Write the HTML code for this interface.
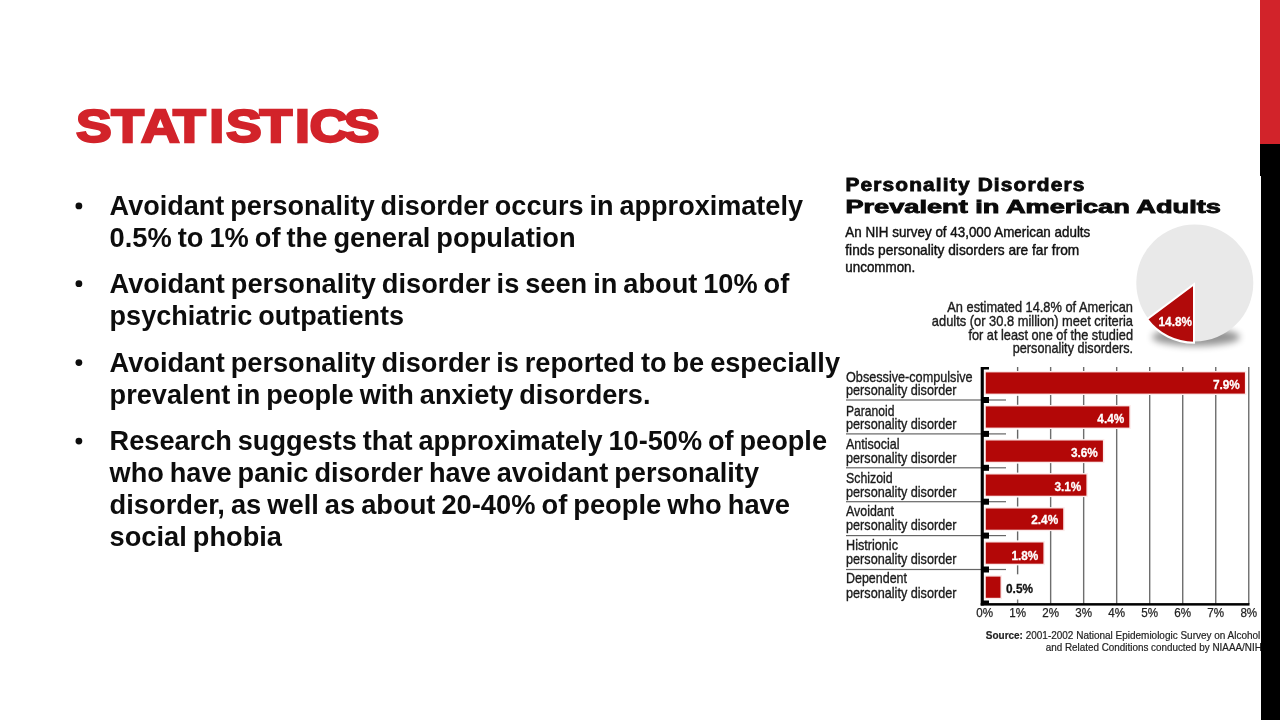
<!DOCTYPE html>
<html><head><meta charset="utf-8">
<title>Statistics</title>
<style>
html,body{margin:0;padding:0;}
body{width:1280px;height:720px;position:relative;overflow:hidden;background:#fff;font-family:"Liberation Sans",sans-serif;}
.abs{position:absolute;}
svg{position:absolute;left:0;top:0;}
svg text{font-family:"Liberation Sans",sans-serif;}
.b{font-weight:bold;font-size:27.2px;fill:#0d0d0d;word-spacing:-1.6px;}
.lab{font-size:15px;fill:#1a1a1a;stroke:#1a1a1a;stroke-width:0.35px;}
.sub{font-size:15px;fill:#111;stroke:#111;stroke-width:0.45px;}
.est{font-size:15px;fill:#1c1c1c;stroke:#1c1c1c;stroke-width:0.4px;}
.val{font-size:13.5px;font-weight:bold;fill:#fff;stroke:#fff;stroke-width:0.3px;}
.ax{font-size:13.5px;fill:#222;stroke:#222;stroke-width:0.25px;}
.src{font-size:11px;fill:#222;stroke:#222;stroke-width:0.2px;}
</style></head><body>
<svg width="1280" height="720" viewBox="0 0 1280 720">
<text transform="scale(1.14,1)" x="82.4 112.0 140.6 166.2 190.1 213.9 241.9 265.3 288.5 317.3" y="141.7" font-size="47" font-weight="bold" text-anchor="middle" fill="#d2232a" stroke="#d2232a" stroke-width="2.3" stroke-linejoin="miter" stroke-miterlimit="3">STATISTICS</text>
<circle cx="78.9" cy="205.9" r="3.4" fill="#0d0d0d"/>
<text class="b" x="109.6" y="214.9" textLength="693.4" lengthAdjust="spacingAndGlyphs">Avoidant personality disorder occurs in approximately</text>
<text class="b" x="109.6" y="247.1" textLength="466.1" lengthAdjust="spacingAndGlyphs">0.5% to 1% of the general population</text>
<circle cx="78.9" cy="283.7" r="3.4" fill="#0d0d0d"/>
<text class="b" x="109.6" y="292.7" textLength="679.7" lengthAdjust="spacingAndGlyphs">Avoidant personality disorder is seen in about 10% of</text>
<text class="b" x="109.6" y="325.1" textLength="294.4" lengthAdjust="spacingAndGlyphs">psychiatric outpatients</text>
<circle cx="78.9" cy="362.6" r="3.4" fill="#0d0d0d"/>
<text class="b" x="109.6" y="371.6" textLength="730.4" lengthAdjust="spacingAndGlyphs">Avoidant personality disorder is reported to be especially</text>
<text class="b" x="109.6" y="403.6" textLength="540.9" lengthAdjust="spacingAndGlyphs">prevalent in people with anxiety disorders.</text>
<circle cx="78.9" cy="441.1" r="3.4" fill="#0d0d0d"/>
<text class="b" x="109.6" y="450.1" textLength="717.4" lengthAdjust="spacingAndGlyphs">Research suggests that approximately 10-50% of people</text>
<text class="b" x="109.6" y="482.0" textLength="649.4" lengthAdjust="spacingAndGlyphs">who have panic disorder have avoidant personality</text>
<text class="b" x="109.6" y="513.8" textLength="680.4" lengthAdjust="spacingAndGlyphs">disorder, as well as about 20-40% of people who have</text>
<text class="b" x="109.6" y="545.7" textLength="172.4" lengthAdjust="spacingAndGlyphs">social phobia</text>
<text transform="translate(845.4,190.6) scale(1.16,1)" x="0" y="0" font-size="18" font-weight="bold" fill="#0a0a0a" stroke="#0a0a0a" stroke-width="0.8" textLength="206.0" lengthAdjust="spacing">Personality Disorders</text>
<text x="845.4" y="213.3" font-size="18" font-weight="bold" fill="#0a0a0a" stroke="#0a0a0a" stroke-width="0.85" textLength="375.5" lengthAdjust="spacingAndGlyphs">Prevalent in American Adults</text>
<text class="sub" x="845.3" y="236.8" textLength="245" lengthAdjust="spacingAndGlyphs">An NIH survey of 43,000 American adults</text>
<text class="sub" x="845.3" y="254.6" textLength="234" lengthAdjust="spacingAndGlyphs">finds personality disorders are far from</text>
<text class="sub" x="845.3" y="272.0" textLength="70" lengthAdjust="spacingAndGlyphs">uncommon.</text>
<defs><filter id="sh" x="-30%" y="-30%" width="160%" height="170%"><feGaussianBlur stdDeviation="3.5"/></filter></defs>
<ellipse cx="1196" cy="337" rx="44" ry="9" fill="#000" opacity="0.42" filter="url(#sh)"/>
<circle cx="1194.8" cy="283.0" r="58.5" fill="#e9e9e9"/>
<path d="M1194.8 283.0 L1194.8 341.5 A58.5 58.5 0 0 1 1147.9 318.0 Z" fill="#b10a0a" stroke="#fff" stroke-width="2" stroke-linejoin="miter" transform="translate(-0.8,1.2)"/>
<text class="val" x="1158.5" y="326" textLength="33.5" lengthAdjust="spacingAndGlyphs">14.8%</text>
<text class="est" x="947.3" y="311.8" textLength="185.7" lengthAdjust="spacingAndGlyphs">An estimated 14.8% of American</text>
<text class="est" x="931.8" y="325.9" textLength="201.2" lengthAdjust="spacingAndGlyphs">adults (or 30.8 million) meet criteria</text>
<text class="est" x="968.4" y="339.6" textLength="164.6" lengthAdjust="spacingAndGlyphs">for at least one of the studied</text>
<text class="est" x="1012.8" y="353.4" textLength="120.2" lengthAdjust="spacingAndGlyphs">personality disorders.</text>
<rect x="1016.92" y="367" width="1.4" height="4" fill="#666"/>
<rect x="1016.92" y="599.5" width="1.4" height="4" fill="#777"/>
<rect x="1016.92" y="395.8" width="1.4" height="9" fill="#666"/>
<rect x="1016.92" y="429.7" width="1.4" height="9" fill="#666"/>
<rect x="1016.92" y="463.6" width="1.4" height="9" fill="#666"/>
<rect x="1016.92" y="497.5" width="1.4" height="9" fill="#666"/>
<rect x="1016.92" y="531.4" width="1.4" height="9" fill="#666"/>
<rect x="1016.92" y="565.3" width="1.4" height="9" fill="#666"/>
<rect x="1049.94" y="367" width="1.4" height="237" fill="#6e6e6e"/>
<rect x="1082.96" y="367" width="1.4" height="237" fill="#6e6e6e"/>
<rect x="1115.98" y="367" width="1.4" height="237" fill="#6e6e6e"/>
<rect x="1149.00" y="367" width="1.4" height="237" fill="#6e6e6e"/>
<rect x="1182.02" y="367" width="1.4" height="237" fill="#6e6e6e"/>
<rect x="1215.04" y="367" width="1.4" height="237" fill="#6e6e6e"/>
<rect x="1248.06" y="367" width="1.4" height="237" fill="#6e6e6e"/>
<rect x="846" y="399.4" width="160" height="1.2" fill="#666"/>
<rect x="981" y="397.0" width="8" height="6" fill="#000"/>
<rect x="846" y="433.3" width="160" height="1.2" fill="#666"/>
<rect x="981" y="430.9" width="8" height="6" fill="#000"/>
<rect x="846" y="467.2" width="160" height="1.2" fill="#666"/>
<rect x="981" y="464.8" width="8" height="6" fill="#000"/>
<rect x="846" y="501.1" width="160" height="1.2" fill="#666"/>
<rect x="981" y="498.7" width="8" height="6" fill="#000"/>
<rect x="846" y="535.0" width="160" height="1.2" fill="#666"/>
<rect x="981" y="532.6" width="8" height="6" fill="#000"/>
<rect x="846" y="568.9" width="160" height="1.2" fill="#666"/>
<rect x="981" y="566.5" width="8" height="6" fill="#000"/>
<rect x="980.7" y="367" width="3.1" height="238.5" fill="#000"/>
<rect x="981" y="367" width="8" height="2.5" fill="#000"/>
<rect x="980.7" y="603.1" width="268.8" height="2.5" fill="#000"/>
<rect x="981" y="600.5" width="8" height="4" fill="#000"/>
<rect x="984.4" y="371.0" width="262.0" height="24.0" fill="#fbeaea"/>
<rect x="985.8" y="372.4" width="259.1" height="21.2" fill="#b30707"/>
<text class="lab" x="846" y="382.4" textLength="126.6" lengthAdjust="spacingAndGlyphs">Obsessive-compulsive</text>
<text class="lab" x="846" y="395.3" textLength="110.5" lengthAdjust="spacingAndGlyphs">personality disorder</text>
<text class="val" x="1212.9" y="388.6" textLength="27" lengthAdjust="spacingAndGlyphs">7.9%</text>
<rect x="984.4" y="405.0" width="146.4" height="24.0" fill="#fbeaea"/>
<rect x="985.8" y="406.4" width="143.5" height="21.2" fill="#b30707"/>
<text class="lab" x="846" y="415.9" textLength="48.4" lengthAdjust="spacingAndGlyphs">Paranoid</text>
<text class="lab" x="846" y="429.1" textLength="110.5" lengthAdjust="spacingAndGlyphs">personality disorder</text>
<text class="val" x="1097.3" y="422.8" textLength="27" lengthAdjust="spacingAndGlyphs">4.4%</text>
<rect x="984.4" y="439.1" width="120.0" height="24.0" fill="#fbeaea"/>
<rect x="985.8" y="440.5" width="117.1" height="21.2" fill="#b30707"/>
<text class="lab" x="846" y="449.4" textLength="53.6" lengthAdjust="spacingAndGlyphs">Antisocial</text>
<text class="lab" x="846" y="462.8" textLength="110.5" lengthAdjust="spacingAndGlyphs">personality disorder</text>
<text class="val" x="1070.9" y="456.6" textLength="27" lengthAdjust="spacingAndGlyphs">3.6%</text>
<rect x="984.4" y="473.1" width="103.5" height="24.0" fill="#fbeaea"/>
<rect x="985.8" y="474.5" width="100.6" height="21.2" fill="#b30707"/>
<text class="lab" x="846" y="482.9" textLength="46.7" lengthAdjust="spacingAndGlyphs">Schizoid</text>
<text class="lab" x="846" y="496.6" textLength="110.5" lengthAdjust="spacingAndGlyphs">personality disorder</text>
<text class="val" x="1054.4" y="490.6" textLength="27" lengthAdjust="spacingAndGlyphs">3.1%</text>
<rect x="984.4" y="507.1" width="80.3" height="24.0" fill="#fbeaea"/>
<rect x="985.8" y="508.5" width="77.4" height="21.2" fill="#b30707"/>
<text class="lab" x="846" y="516.4" textLength="48.0" lengthAdjust="spacingAndGlyphs">Avoidant</text>
<text class="lab" x="846" y="530.3" textLength="110.5" lengthAdjust="spacingAndGlyphs">personality disorder</text>
<text class="val" x="1031.2" y="523.5" textLength="27" lengthAdjust="spacingAndGlyphs">2.4%</text>
<rect x="984.4" y="541.1" width="60.5" height="24.0" fill="#fbeaea"/>
<rect x="985.8" y="542.5" width="57.6" height="21.2" fill="#b30707"/>
<text class="lab" x="846" y="549.9" textLength="52.0" lengthAdjust="spacingAndGlyphs">Histrionic</text>
<text class="lab" x="846" y="564.0" textLength="110.5" lengthAdjust="spacingAndGlyphs">personality disorder</text>
<text class="val" x="1011.4" y="559.7" textLength="27" lengthAdjust="spacingAndGlyphs">1.8%</text>
<rect x="984.4" y="575.2" width="17.6" height="24.0" fill="#fbeaea"/>
<rect x="985.8" y="576.6" width="14.7" height="21.2" fill="#b30707"/>
<text class="lab" x="846" y="583.4" textLength="61.0" lengthAdjust="spacingAndGlyphs">Dependent</text>
<text class="lab" x="846" y="597.8" textLength="110.5" lengthAdjust="spacingAndGlyphs">personality disorder</text>
<text class="val" style="fill:#111;stroke:#111" x="1006" y="593.4" textLength="27" lengthAdjust="spacingAndGlyphs">0.5%</text>
<text class="ax" x="976.2" y="617" textLength="16.8" lengthAdjust="spacingAndGlyphs">0%</text>
<text class="ax" x="1009.2" y="617" textLength="16.8" lengthAdjust="spacingAndGlyphs">1%</text>
<text class="ax" x="1042.2" y="617" textLength="16.8" lengthAdjust="spacingAndGlyphs">2%</text>
<text class="ax" x="1075.3" y="617" textLength="16.8" lengthAdjust="spacingAndGlyphs">3%</text>
<text class="ax" x="1108.3" y="617" textLength="16.8" lengthAdjust="spacingAndGlyphs">4%</text>
<text class="ax" x="1141.3" y="617" textLength="16.8" lengthAdjust="spacingAndGlyphs">5%</text>
<text class="ax" x="1174.3" y="617" textLength="16.8" lengthAdjust="spacingAndGlyphs">6%</text>
<text class="ax" x="1207.3" y="617" textLength="16.8" lengthAdjust="spacingAndGlyphs">7%</text>
<text class="ax" x="1240.4" y="617" textLength="16.8" lengthAdjust="spacingAndGlyphs">8%</text>
<text class="src" x="985.8" y="639.3" textLength="274.5" lengthAdjust="spacingAndGlyphs"><tspan font-weight="bold">Source:</tspan> 2001-2002 National Epidemiologic Survey on Alcohol</text>
<text class="src" x="1045.8" y="650.8" textLength="216" lengthAdjust="spacingAndGlyphs">and Related Conditions conducted by NIAAA/NIH</text>
</svg>
<div class="abs" style="left:1260.7px;top:144px;width:20px;height:576px;background:#000"></div>
<div class="abs" style="left:1260px;top:144px;width:20px;height:31.5px;background:#000"></div>
<div class="abs" style="left:1260.2px;top:0;width:20px;height:143.8px;background:#d2232a"></div>
</body></html>
